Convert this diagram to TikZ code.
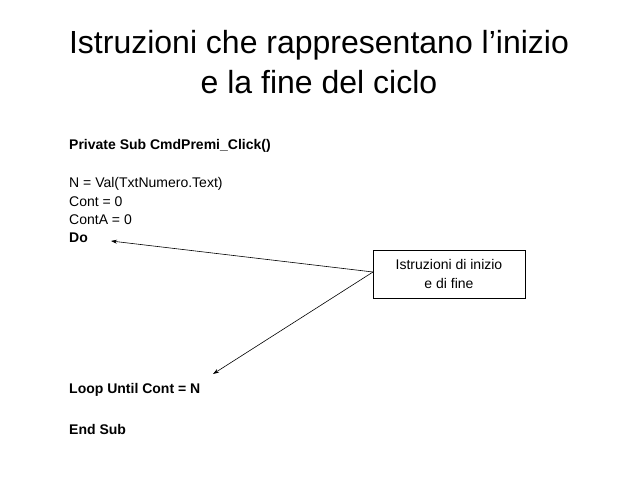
\documentclass[tikz,border=0pt]{standalone}
\usepackage{fontspec}
\setmainfont{Liberation Sans}
\usetikzlibrary{arrows.meta}
\begin{document}
\begin{tikzpicture}[x=1pt,y=-1pt,
  code/.style={anchor=west,inner sep=0,font=\fontsize{14}{16}\selectfont},
  arr/.style={-{Stealth[length=6pt,width=4pt]},line width=0.6pt}]
\useasboundingbox (0,0) rectangle (638,478);
\node (t1) at (319,45) {\fontsize{32}{36}\selectfont Istruzioni che rappresentano l’inizio};
\node (t2) at (319,82) {\fontsize{32}{36}\selectfont e la fine del ciclo};
\node[code] (l1) at (69,146) {\bfseries Private Sub CmdPremi\_Click()};
\node[code] (l2) at (69,184) {N = Val(TxtNumero.Text)};
\node[code] (l3) at (69,202) {Cont = 0};
\node[code] (l4) at (69,220) {ContA = 0};
\node[code] (l5) at (69,238) {\bfseries Do};
\node[code] (l6) at (69,390) {\bfseries Loop Until Cont = N};
\node[code] (l7) at (69,429) {\bfseries End Sub};
\node[draw,line width=0.6pt,minimum width=152pt,minimum height=48pt,align=center,
  font=\fontsize{14}{19}\selectfont] (box) at (449,274) {Istruzioni di inizio\\e di fine};
\coordinate (s) at (373,272);
\coordinate (e1) at (111,241);
\coordinate (e2) at (213,374);
\draw[arr] (s) -- (e1);
\draw[arr] (s) -- (e2);
\end{tikzpicture}
\end{document}
